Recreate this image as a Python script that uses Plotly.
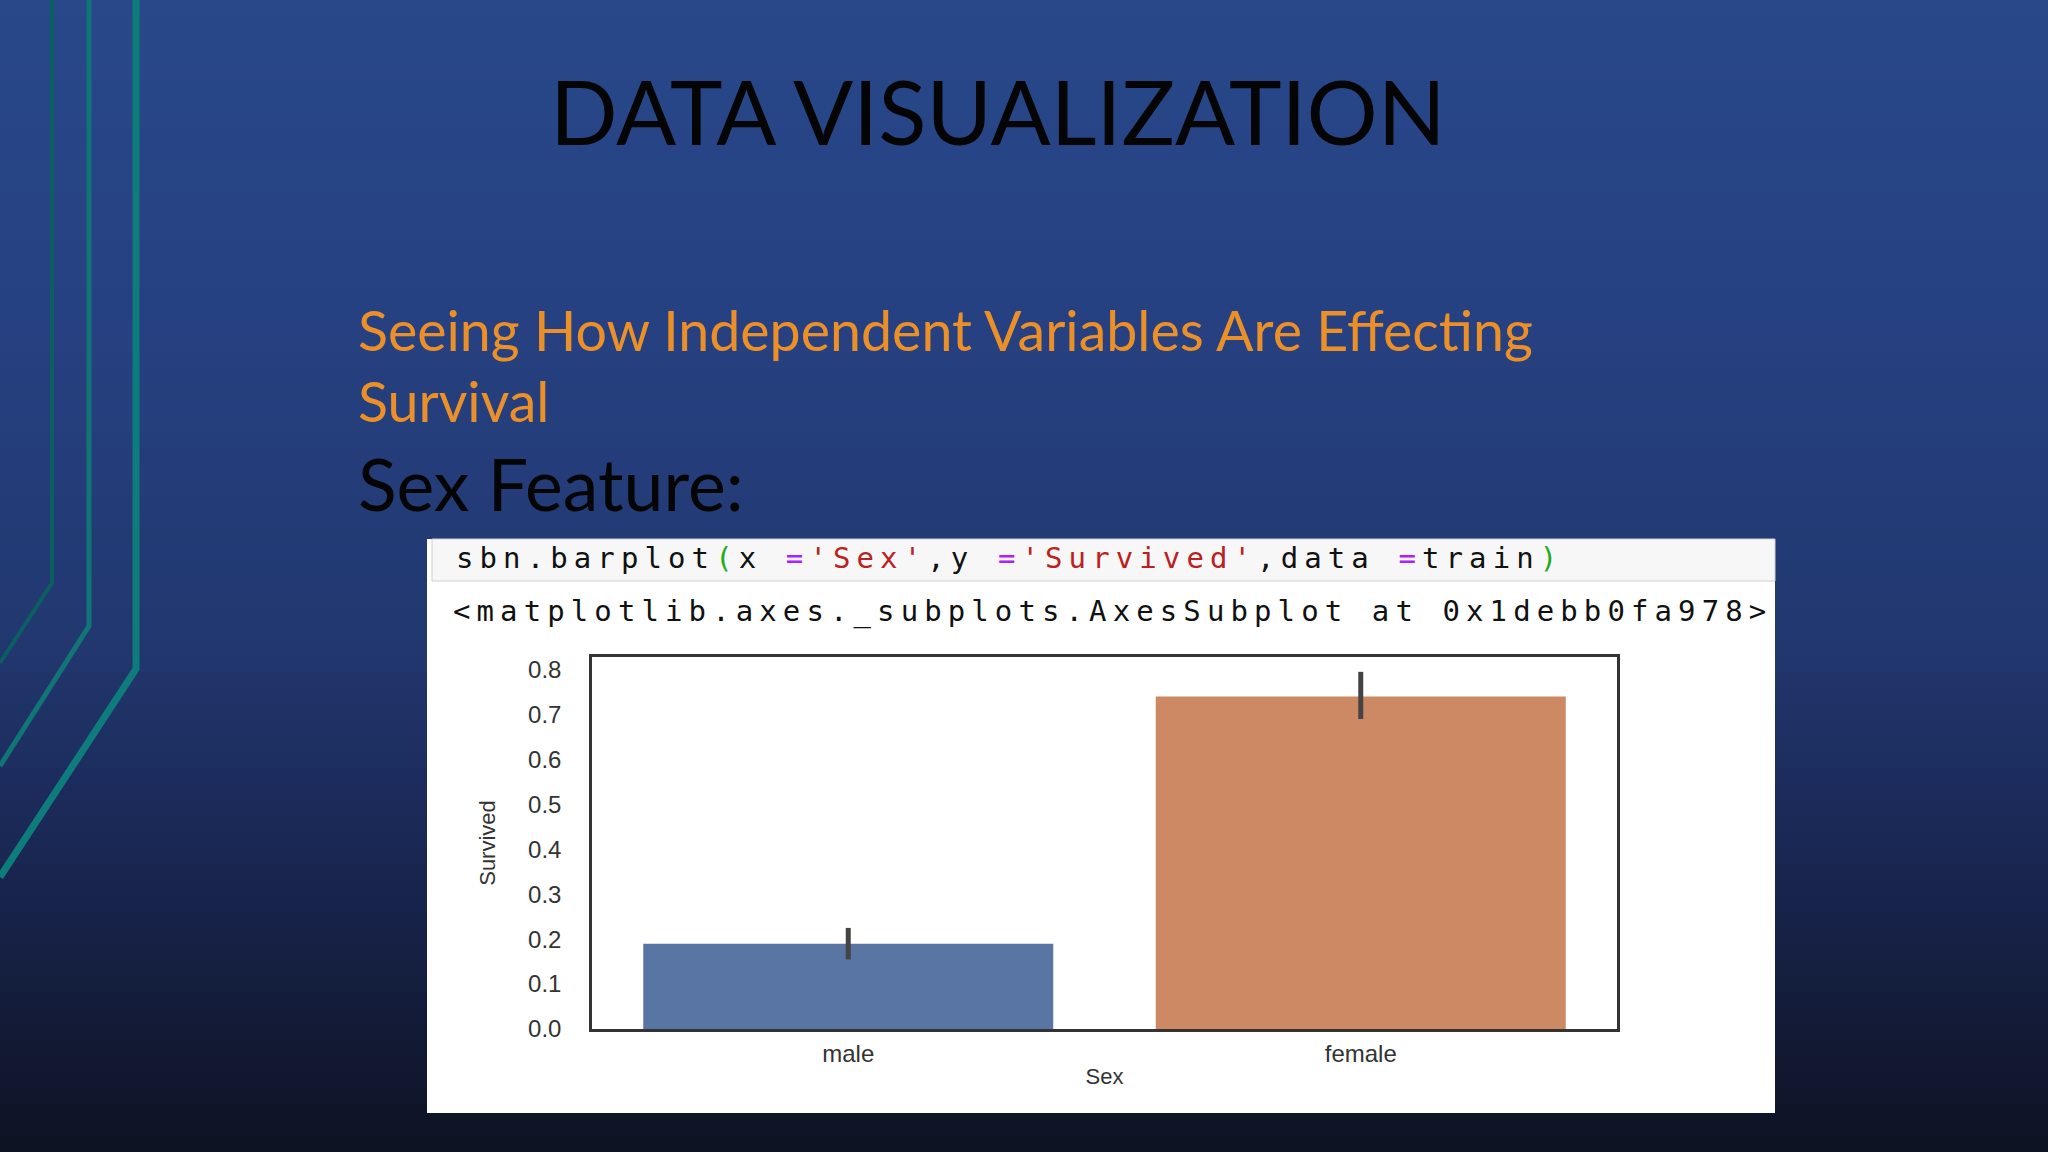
import plotly.graph_objects as go

W, H = 2048, 1152

sex = ["male", "female"]
survived = [0.19, 0.74]
ci_low = [0.155, 0.69]
ci_high = [0.225, 0.795]
bar_colors = ["#5875A4", "#CC8963"]
y_ticks = [0.0, 0.1, 0.2, 0.3, 0.4, 0.5, 0.6, 0.7, 0.8]
y_labels = ["0.0", "0.1", "0.2", "0.3", "0.4", "0.5", "0.6", "0.7", "0.8"]

# slide background gradient stops (pos, rgb)
bg_stops = [(0.0, (40, 72, 138)), (0.3, (38, 64, 128)), (0.55, (33, 56, 112)),
            (0.7, (28, 42, 90)), (0.85, (20, 30, 62)), (1.0, (14, 18, 34))]


def px(x):
    return x / W


def py(y):
    return 1 - y / H


def bg_color(t):
    for (p0, c0), (p1, c1) in zip(bg_stops[:-1], bg_stops[1:]):
        if p0 <= t <= p1:
            f = (t - p0) / (p1 - p0)
            c = [round(a + (b - a) * f) for a, b in zip(c0, c1)]
            return "rgb(%d,%d,%d)" % tuple(c)
    return "rgb(%d,%d,%d)" % bg_stops[-1][1]


shapes = []
n_bands = 72
for i in range(n_bands):
    y0 = H * i / n_bands
    y1 = min(H, H * (i + 1) / n_bands + 1)
    shapes.append(dict(type="rect", xref="paper", yref="paper", layer="below",
                       x0=0, x1=1, y0=py(y1), y1=py(y0),
                       fillcolor=bg_color((i + 0.5) / n_bands), line_width=0))

# teal decorative lines on the left
deco = [([(52, 0), (52, 583), (0, 663)], "#0B5F60", 4),
        ([(89, 0), (89, 626), (0, 766)], "#117575", 5),
        ([(136, 0), (136, 669), (0, 877)], "#0F7C7C", 7)]
for pts, col, lw in deco:
    path = "M " + " L ".join("%f,%f" % (px(a), py(b)) for a, b in pts)
    shapes.append(dict(type="path", xref="paper", yref="paper", layer="below",
                       path=path, line=dict(color=col, width=lw)))

# white notebook screenshot panel + code cell
shapes.append(dict(type="rect", xref="paper", yref="paper", layer="below",
                   x0=px(427), x1=px(1775), y0=py(1113), y1=py(539),
                   fillcolor="white", line_width=0))
shapes.append(dict(type="rect", xref="paper", yref="paper", layer="below",
                   x0=px(432), x1=px(1775), y0=py(581), y1=py(539),
                   fillcolor="#F7F7F7", line=dict(color="#CFCFCF", width=1)))

fig = go.Figure()
fig.add_trace(go.Bar(
    x=sex, y=survived,
    marker=dict(color=bar_colors, line_width=0),
    error_y=dict(type="data", symmetric=False,
                 array=[h - v for h, v in zip(ci_high, survived)],
                 arrayminus=[v - l for v, l in zip(survived, ci_low)],
                 color="#444444", thickness=5, width=0),
    showlegend=False,
))


def span(txt, col):
    return '<span style="color:%s;letter-spacing:6.1px">%s</span>' % (col, txt)


code_line = (span("sbn.barplot", "#111") + span("(", "#22AA22") + span("x ", "#111")
             + span("=", "#AA22FF") + span("'Sex'", "#BA2121") + span(",y ", "#111")
             + span("=", "#AA22FF") + span("'Survived'", "#BA2121") + span(",data ", "#111")
             + span("=", "#AA22FF") + span("train", "#111") + span(")", "#22AA22"))
out_line = span("&lt;matplotlib.axes._subplots.AxesSubplot at 0x1debb0fa978&gt;", "#111")

annotations = [
    dict(text="DATA VISUALIZATION", x=px(998), y=py(111), xanchor="center", yanchor="middle",
         font=dict(family="Lato", size=89, color="#050505")),
    dict(text="Seeing How Independent Variables Are Effecting", x=px(356), y=py(329),
         xanchor="left", yanchor="middle", font=dict(family="Lato", size=55.5, color="#EB9028")),
    dict(text="Survival", x=px(356), y=py(400),
         xanchor="left", yanchor="middle", font=dict(family="Lato", size=55.5, color="#EB9028")),
    dict(text="Sex Feature:", x=px(356), y=py(483),
         xanchor="left", yanchor="middle", font=dict(family="Lato", size=71.5, color="#050505")),
    dict(text=code_line, x=px(454), y=py(558), xanchor="left", yanchor="middle",
         font=dict(family="DejaVu Sans Mono", size=29)),
    dict(text=out_line, x=px(451), y=py(611), xanchor="left", yanchor="middle",
         font=dict(family="DejaVu Sans Mono", size=29)),
]
for a in annotations:
    a.update(xref="paper", yref="paper", showarrow=False)

axis_font = dict(family="Liberation Sans", size=22, color="#333333")
fig.update_layout(
    width=W, height=H, autosize=False,
    margin=dict(l=0, r=0, t=0, b=0, pad=0, autoexpand=False),
    paper_bgcolor="rgb(14,18,34)",
    plot_bgcolor="rgba(0,0,0,0)",
    bargap=0.2,
    hovermode=False,
    shapes=shapes,
    annotations=annotations,
    xaxis=dict(domain=[px(592), px(1617)], range=[-0.5, 1.5], automargin=False,
               showline=True, mirror=True, linecolor="#333333", linewidth=2.5,
               showgrid=False, zeroline=False, ticks="",
               tickfont=dict(family="Liberation Sans", size=24, color="#333333"),
               ticklabelstandoff=1,
               title=dict(text="Sex", font=axis_font, standoff=4)),
    yaxis=dict(domain=[1 - 1029 / H, 1 - 657 / H], range=[0, 0.828], automargin=False,
               tickvals=y_ticks, ticktext=y_labels,
               showline=True, mirror=True, linecolor="#333333", linewidth=2.5,
               showgrid=False, zeroline=False, ticks="",
               tickfont=dict(family="Liberation Sans", size=24, color="#333333"),
               ticklabelstandoff=23,
               title=dict(text="Survived", font=axis_font, standoff=27)),
)

page_fix = ("var s='margin:0;padding:0;overflow:hidden;width:2048px;height:1152px;background:#0e1222';"
            "document.documentElement.style.cssText=s;document.body.style.cssText=s;")
fig.write_html("out.html", config={"displayModeBar": False}, post_script=page_fix)
